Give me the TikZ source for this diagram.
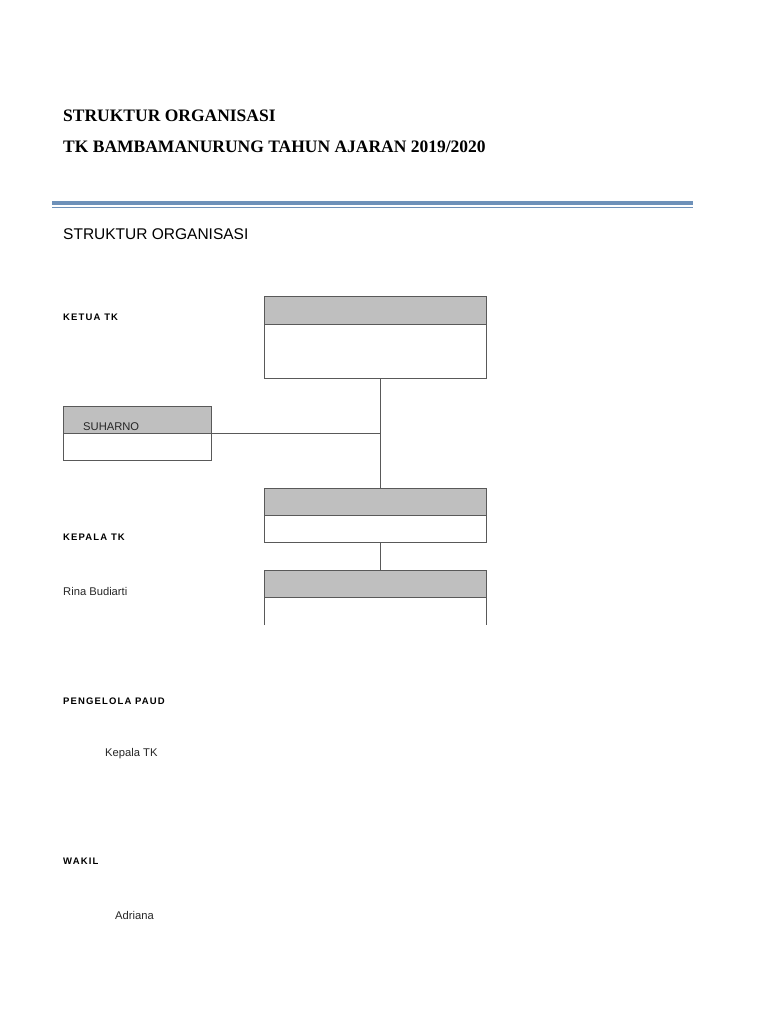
\documentclass[tikz,border=0pt]{standalone}
\usepackage{fontspec}
\setmainfont{Liberation Serif}
\newfontfamily\sans{Liberation Sans}
\newfontfamily\sansw[LetterSpace=12]{Liberation Sans}
\begin{document}
\begin{tikzpicture}[x=1pt,y=-1pt,
  boxline/.style={draw=black!65,line width=0.9pt},
  head/.style={fill=black!25},
  lbl/.style={anchor=west,inner sep=0pt,font=\sansw\fontsize{9.5}{11}\selectfont\bfseries},
  txt/.style={anchor=west,inner sep=0pt,font=\sans\fontsize{11.2}{13}\selectfont,text=black!85},
  ttl/.style={anchor=west,inner sep=0pt,font=\fontsize{17.5}{19}\selectfont\bfseries}]
\useasboundingbox (0,0) rectangle (768,1024);
\node[ttl] (t1) at (63,116) {STRUKTUR ORGANISASI};
\node[ttl] (t2) at (63,147) {TK BAMBAMANURUNG TAHUN AJARAN 2019/2020};
\draw[line width=3.2pt,color={rgb,255:red,110;green,145;blue,185}] (52,203) -- (693,203);
\draw[line width=1.4pt,color={rgb,255:red,110;green,145;blue,185}] (52,207.5) -- (693,207.5);
\node[anchor=west,inner sep=0pt,font=\sans\fontsize{15.5}{17}\selectfont] (t3) at (63,234) {STRUKTUR ORGANISASI};
% box 1
\fill[head] (264,296) rectangle (486,324);
\node[boxline,anchor=north west,minimum width=222pt,minimum height=82pt,inner sep=0pt] (b1) at (264,296) {};
\draw[boxline] (264,324) -- (486,324);
% suharno box
\fill[head] (63,406) rectangle (211,433);
\node[boxline,anchor=north west,minimum width=148pt,minimum height=54pt,inner sep=0pt] (b2) at (63,406) {};
\draw[boxline] (63,433) -- (211,433);
\node[txt] (s) at (83,427) {SUHARNO};
% box 3
\fill[head] (264,488) rectangle (486,515);
\node[boxline,anchor=north west,minimum width=222pt,minimum height=54pt,inner sep=0pt] (b3) at (264,488) {};
\draw[boxline] (264,515) -- (486,515);
% box 4 (open bottom)
\fill[head] (264,570) rectangle (486,597);
\coordinate (b4) at (380,570);
\draw[boxline] (264,625) -- (264,570) -- (486,570) -- (486,625);
\draw[boxline] (264,597) -- (486,597);
% connectors
\coordinate (j) at (380,433);
\draw[boxline] (j |- b1.south) -- (j |- b3.north);
\draw[boxline] (b2.east |- j) -- (j);
\draw[boxline] (j |- b3.south) -- (b4);
% labels
\node[lbl] (l1) at (63,317) {KETUA TK};
\node[lbl] (l2) at (63,537) {KEPALA TK};
\node[txt] (n2) at (63,591) {Rina Budiarti};
\node[lbl] (l3) at (63,701) {PENGELOLA PAUD};
\node[txt] (n3) at (105,754) {Kepala TK};
\node[lbl] (l4) at (63,861) {WAKIL};
\node[txt] (n4) at (115,915) {Adriana};
\end{tikzpicture}
\end{document}
